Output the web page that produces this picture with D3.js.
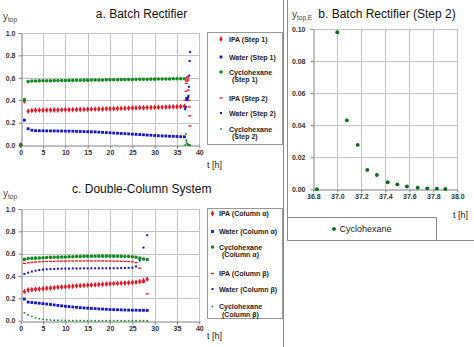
<!DOCTYPE html>
<html><head><meta charset="utf-8">
<script src="https://cdn.jsdelivr.net/npm/d3@7"></script>
<style>
body{margin:0;background:#fff}
svg{display:block}
text{font-family:"Liberation Sans",Arial,sans-serif}
</style>
</head><body>
<svg id="chart" width="474" height="347"></svg>
<script>
// ---------- data: a. Batch Rectifier ----------
const tStep1 = [0,0.83,1.67,2.5,3.33,4.17,5,5.83,6.67,7.5,8.33,9.17,10,10.83,11.67,12.5,13.33,14.17,15,15.83,16.67,17.5,18.33,19.17,20,20.83,21.67,22.5,23.33,24.17,25,25.83,26.67,27.5,28.33,29.17,30,30.83,31.67,32.5,33.33,34.17,35,35.83,36.67];
const ipaStep1 = [0,0.392,0.302,0.309,0.310,0.311,0.311,0.312,0.312,0.313,0.313,0.314,0.315,0.315,0.316,0.317,0.317,0.318,0.319,0.320,0.320,0.321,0.322,0.323,0.324,0.325,0.326,0.327,0.328,0.329,0.330,0.331,0.332,0.333,0.334,0.335,0.336,0.337,0.338,0.339,0.340,0.341,0.342,0.343,0.345];
const waterStep1 = [0,0.222,0.145,0.132,0.128,0.127,0.127,0.126,0.126,0.126,0.125,0.125,0.124,0.124,0.123,0.122,0.121,0.120,0.119,0.118,0.117,0.115,0.113,0.111,0.109,0.107,0.105,0.103,0.101,0.099,0.097,0.095,0.093,0.091,0.089,0.087,0.085,0.083,0.081,0.080,0.078,0.077,0.076,0.074,0.073];
const cycloStep1 = [0,0.405,0.566,0.571,0.572,0.573,0.573,0.574,0.574,0.575,0.575,0.576,0.576,0.577,0.577,0.578,0.578,0.579,0.579,0.580,0.580,0.581,0.581,0.582,0.582,0.583,0.583,0.584,0.584,0.585,0.585,0.586,0.586,0.587,0.587,0.588,0.588,0.589,0.589,0.590,0.590,0.591,0.591,0.592,0.592];
const tStep2 = [36.83,37.0,37.08,37.17,37.25,37.33,37.42,37.5,37.58,37.67,37.75,37.83,37.9];
const ipaStep2 = [0.40,0.48,0.55,0.57,0.58,0.60,0.61,0.58,0.49,0.40,0.34,0.26,0.17];
const waterStep2 = [0.32,0.34,0.42,0.41,0.40,0.41,0.42,0.43,0.44,0.52,0.62,0.75,0.83];
const cycloStep2 = [0.0,0.098,0.043,0.0277,0.0121,0.0089,0.0044,0.0031,0.0017,0.0010,0.0006,0.0004,0.0002];

// ---------- data: c. Double-Column System ----------
const tCol = [0.83,1.67,2.5,3.33,4.17,5,5.83,6.67,7.5,8.33,9.17,10,10.83,11.67,12.5,13.33,14.17,15,15.83,16.67,17.5,18.33,19.17,20,20.83,21.67,22.5,23.33,24.17,25,25.83,26.67,27.5,28.33];
const ipaAlpha = [0.26,0.275,0.278,0.281,0.284,0.287,0.290,0.293,0.296,0.299,0.302,0.305,0.307,0.309,0.312,0.314,0.316,0.318,0.320,0.322,0.324,0.326,0.328,0.330,0.332,0.334,0.336,0.338,0.340,0.342,0.345,0.350,0.358,0.372];
const waterAlpha = [0.194,0.167,0.163,0.160,0.157,0.153,0.149,0.145,0.141,0.137,0.133,0.129,0.126,0.123,0.120,0.117,0.114,0.112,0.110,0.108,0.106,0.104,0.102,0.100,0.099,0.098,0.097,0.096,0.095,0.094,0.094,0.093,0.093,0.092];
const cycloAlpha = [0.549,0.556,0.558,0.560,0.562,0.564,0.566,0.567,0.568,0.569,0.570,0.571,0.572,0.573,0.574,0.575,0.576,0.576,0.577,0.577,0.578,0.578,0.578,0.578,0.578,0.577,0.576,0.575,0.574,0.572,0.568,0.560,0.553,0.548];
const ipaBeta = [0.513,0.518,0.522,0.525,0.527,0.529,0.530,0.531,0.532,0.533,0.533,0.534,0.534,0.534,0.535,0.535,0.535,0.535,0.535,0.535,0.535,0.535,0.534,0.534,0.534,0.533,0.532,0.531,0.530,0.528,0.520,0.470,0.345,0.240];
const waterBeta = [0.418,0.430,0.440,0.448,0.453,0.457,0.460,0.462,0.464,0.465,0.466,0.467,0.467,0.468,0.468,0.468,0.468,0.469,0.469,0.469,0.469,0.469,0.469,0.470,0.470,0.470,0.471,0.472,0.473,0.475,0.485,0.540,0.655,0.765];
const cycloBeta = [0.070,0.052,0.038,0.026,0.018,0.012,0.008,0.006,0.004,0.003,0.002,0.002,0.001,0.001,0.001,0.001,0,0,0,0,0,0,0,0,0,0,0,0,0,0,0,0,0,0];

// ---------- ticks / labels ----------
const tTicksAC = [0,5,10,15,20,25,30,35,40];
const yTicksAC = [0,0.2,0.4,0.6,0.8,1.0];
const tTicksB = [36.8,37.0,37.2,37.4,37.6,37.8,38.0];
const yTicksB = [0,0.02,0.04,0.06,0.08,0.10];
const legendA = [["IPA (Step 1)"],["Water (Step 1)"],["Cyclohexane","(Step 1)"],["IPA (Step 2)"],["Water (Step 2)"],["Cyclohexane","(Step 2)"]];
const legendC = [["IPA (Column α)"],["Water (Column α)"],["Cyclohexane","(Column α)"],["IPA (Column β)"],["Water (Column β)"],["Cyclohexane","(Column β)"]];

const RED="#ee1420", BLUE="#1414cc", GREEN="#128a1e", DGREEN="#0d6a18";
const GRID="#c4c4c4", AXIS="#808080", FRAME="#8a8a8a";

const svg = d3.select("#chart");

// marker styles
const mk = {
  big: {
    ipa:  {type:d3.symbolDiamond, size:10, color:RED},
    water:{type:d3.symbolSquare, size:8, color:BLUE},
    cyclo:{type:d3.symbolCircle, size:10, color:GREEN}
  },
  small: {
    ipa:  {rect:[3,1.3], color:RED},
    water:{rect:[2,2], color:BLUE},
    cyclo:{rect:[1.6,1.6], color:GREEN}
  }
};

function drawMarker(g, x, y, style){
  if (style.rect){
    g.append("rect").attr("x", x-style.rect[0]/2).attr("y", y-style.rect[1]/2)
      .attr("width", style.rect[0]).attr("height", style.rect[1]).attr("fill", style.color);
  } else {
    g.append("path").attr("d", d3.symbol().type(style.type).size(style.size)())
      .attr("transform", `translate(${x},${y})`).attr("fill", style.color);
  }
}

function panel(o){
  const g = svg.append("g");
  const x = d3.scaleLinear().domain(o.xd).range([o.x0,o.x1]);
  const y = d3.scaleLinear().domain(o.yd).range([o.y0,o.y1]);
  // grid
  g.selectAll(".gx").data(o.xt.slice(1)).enter().append("line")
    .attr("x1",d=>Math.round(x(d))+0.5).attr("x2",d=>Math.round(x(d))+0.5)
    .attr("y1",o.y1).attr("y2",o.y0).attr("stroke",GRID).attr("stroke-width",1);
  g.selectAll(".gy").data(o.yt.slice(1)).enter().append("line")
    .attr("y1",d=>Math.round(y(d))+0.5).attr("y2",d=>Math.round(y(d))+0.5)
    .attr("x1",o.x0).attr("x2",o.x1).attr("stroke",GRID).attr("stroke-width",1);
  // axes
  const ax = g.append("g").attr("transform",`translate(0,${Math.round(o.y0)+0.5})`)
    .call(d3.axisBottom(x).tickValues(o.xt).tickFormat(o.xf).tickSize(3).tickSizeOuter(0).tickPadding(2));
  const ay = g.append("g").attr("transform",`translate(${Math.round(o.x0)+0.5},0)`)
    .call(d3.axisLeft(y).tickValues(o.yt).tickFormat(o.yf).tickSize(3).tickSizeOuter(0).tickPadding(o.ypad||3));
  [ax,ay].forEach(a=>{
    a.select(".domain").attr("stroke",AXIS);
    a.selectAll(".tick line").attr("stroke",AXIS);
    a.selectAll(".tick text").attr("fill","#333").attr("font-size",7).attr("font-weight","bold")
      .attr("font-family","'Liberation Sans',Arial,sans-serif");
  });
  // series
  const pg = g.append("g");
  o.series.forEach(s=>{
    s.t.forEach((t,i)=>drawMarker(pg, x(t), y(s.v[i]), s.style));
  });
  return {x,y,g};
}

function yLabel(x, yb, sub){
  const t = svg.append("text").attr("x",x).attr("y",yb).attr("fill","#444").attr("font-size",10);
  t.append("tspan").text("y");
  t.append("tspan").attr("font-size",6.5).attr("dy",2).text(sub);
}
function title(x, yb, s){
  svg.append("text").attr("x",x).attr("y",yb).attr("text-anchor","middle").attr("font-size",12).attr("fill","#111").text(s);
}
function tLabel(x, yb){
  svg.append("text").attr("x",x).attr("y",yb).attr("font-size",9).attr("fill","#222").text("t [h]");
}

// ---------- panel a ----------
title(141.5, 18, "a. Batch Rectifier");
yLabel(3, 20, "top");
tLabel(207, 168);
panel({xd:[0,40], yd:[0,1], x0:20.7, x1:199.3, y0:145, y1:33, xt:tTicksAC, yt:yTicksAC,
  xf:d3.format("d"), yf:d3.format(".1f"),
  series:[
    {t:tStep1, v:ipaStep1, style:mk.big.ipa},
    {t:tStep1, v:waterStep1, style:mk.big.water},
    {t:tStep1, v:cycloStep1, style:mk.big.cyclo},
    {t:tStep2, v:ipaStep2, style:mk.small.ipa},
    {t:tStep2, v:waterStep2, style:mk.small.water},
    {t:tStep2, v:cycloStep2, style:mk.small.cyclo}
  ]});

function legend(box, rows, styles, mx, tx, rowY){
  svg.append("rect").attr("x",box[0]+0.5).attr("y",box[1]+0.5).attr("width",box[2]-box[0]).attr("height",box[3]-box[1])
    .attr("fill","#fff").attr("stroke","#999");
  const lg = svg.append("g");
  rows.forEach((r,i)=>{
    const yc = rowY[i];
    drawMarker(lg, mx, yc, styles[i]);
    r.forEach((line,j)=>{
      lg.append("text").attr("x", tx + (j>0?3:0)).attr("y", yc + 2.5 + j*7.5)
        .attr("font-size",7).attr("font-weight","bold").attr("fill","#222").text(line);
    });
  });
}
const legStyles = [mk.big.ipa, mk.big.water, mk.big.cyclo, mk.small.ipa, mk.small.water, mk.small.cyclo];
legend([207,32,282,144], legendA, legStyles, 221, 229, [39,57,72,98,113,129]);

// ---------- panel c ----------
title(141.8, 193, "c. Double-Column System");
yLabel(3, 197, "top");
tLabel(207, 339);
panel({xd:[0,40], yd:[0,1], x0:20.7, x1:199.3, y0:320.7, y1:209, xt:tTicksAC, yt:yTicksAC,
  xf:d3.format("d"), yf:d3.format(".1f"),
  series:[
    {t:tCol, v:ipaAlpha, style:mk.big.ipa},
    {t:tCol, v:waterAlpha, style:mk.big.water},
    {t:tCol, v:cycloAlpha, style:mk.big.cyclo},
    {t:tCol, v:ipaBeta, style:mk.small.ipa},
    {t:tCol, v:waterBeta, style:mk.small.water},
    {t:tCol, v:cycloBeta, style:mk.small.cyclo}
  ]});
legend([207,208,282,318], legendC, legStyles, 212.5, 219, [213.5,231.5,247,273.5,289,306.5]);

// ---------- panel b ----------
title(387, 18, "b. Batch Rectifier (Step 2)");
yLabel(292, 18, "top,E");
tLabel(453, 218);
const bStyle = {type:d3.symbolCircle, size:12, color:DGREEN};
panel({xd:[36.8,38.0], yd:[0,0.10], x0:313.3, x1:457.3, y0:189.3, y1:29, xt:tTicksB, yt:yTicksB,
  xf:d3.format(".1f"), yf:d3.format(".2f"), ypad:5,
  series:[{t:tStep2, v:cycloStep2, style:bStyle}]});

// frames
svg.append("line").attr("x1",283.5).attr("x2",283.5).attr("y1",0).attr("y2",347).attr("stroke",FRAME);
svg.append("line").attr("x1",287.5).attr("x2",287.5).attr("y1",0).attr("y2",240).attr("stroke",FRAME);
svg.append("line").attr("x1",287).attr("x2",474).attr("y1",240.5).attr("y2",240.5).attr("stroke",FRAME);
// legend b
svg.append("rect").attr("x",287.5).attr("y",217.5).attr("width",149).attr("height",23).attr("fill","none").attr("stroke",FRAME);
drawMarker(svg, 334, 229, bStyle);
svg.append("text").attr("x",339.5).attr("y",232.3).attr("font-size",9).attr("fill","#222").text("Cyclohexane");
</script>
</body></html>
